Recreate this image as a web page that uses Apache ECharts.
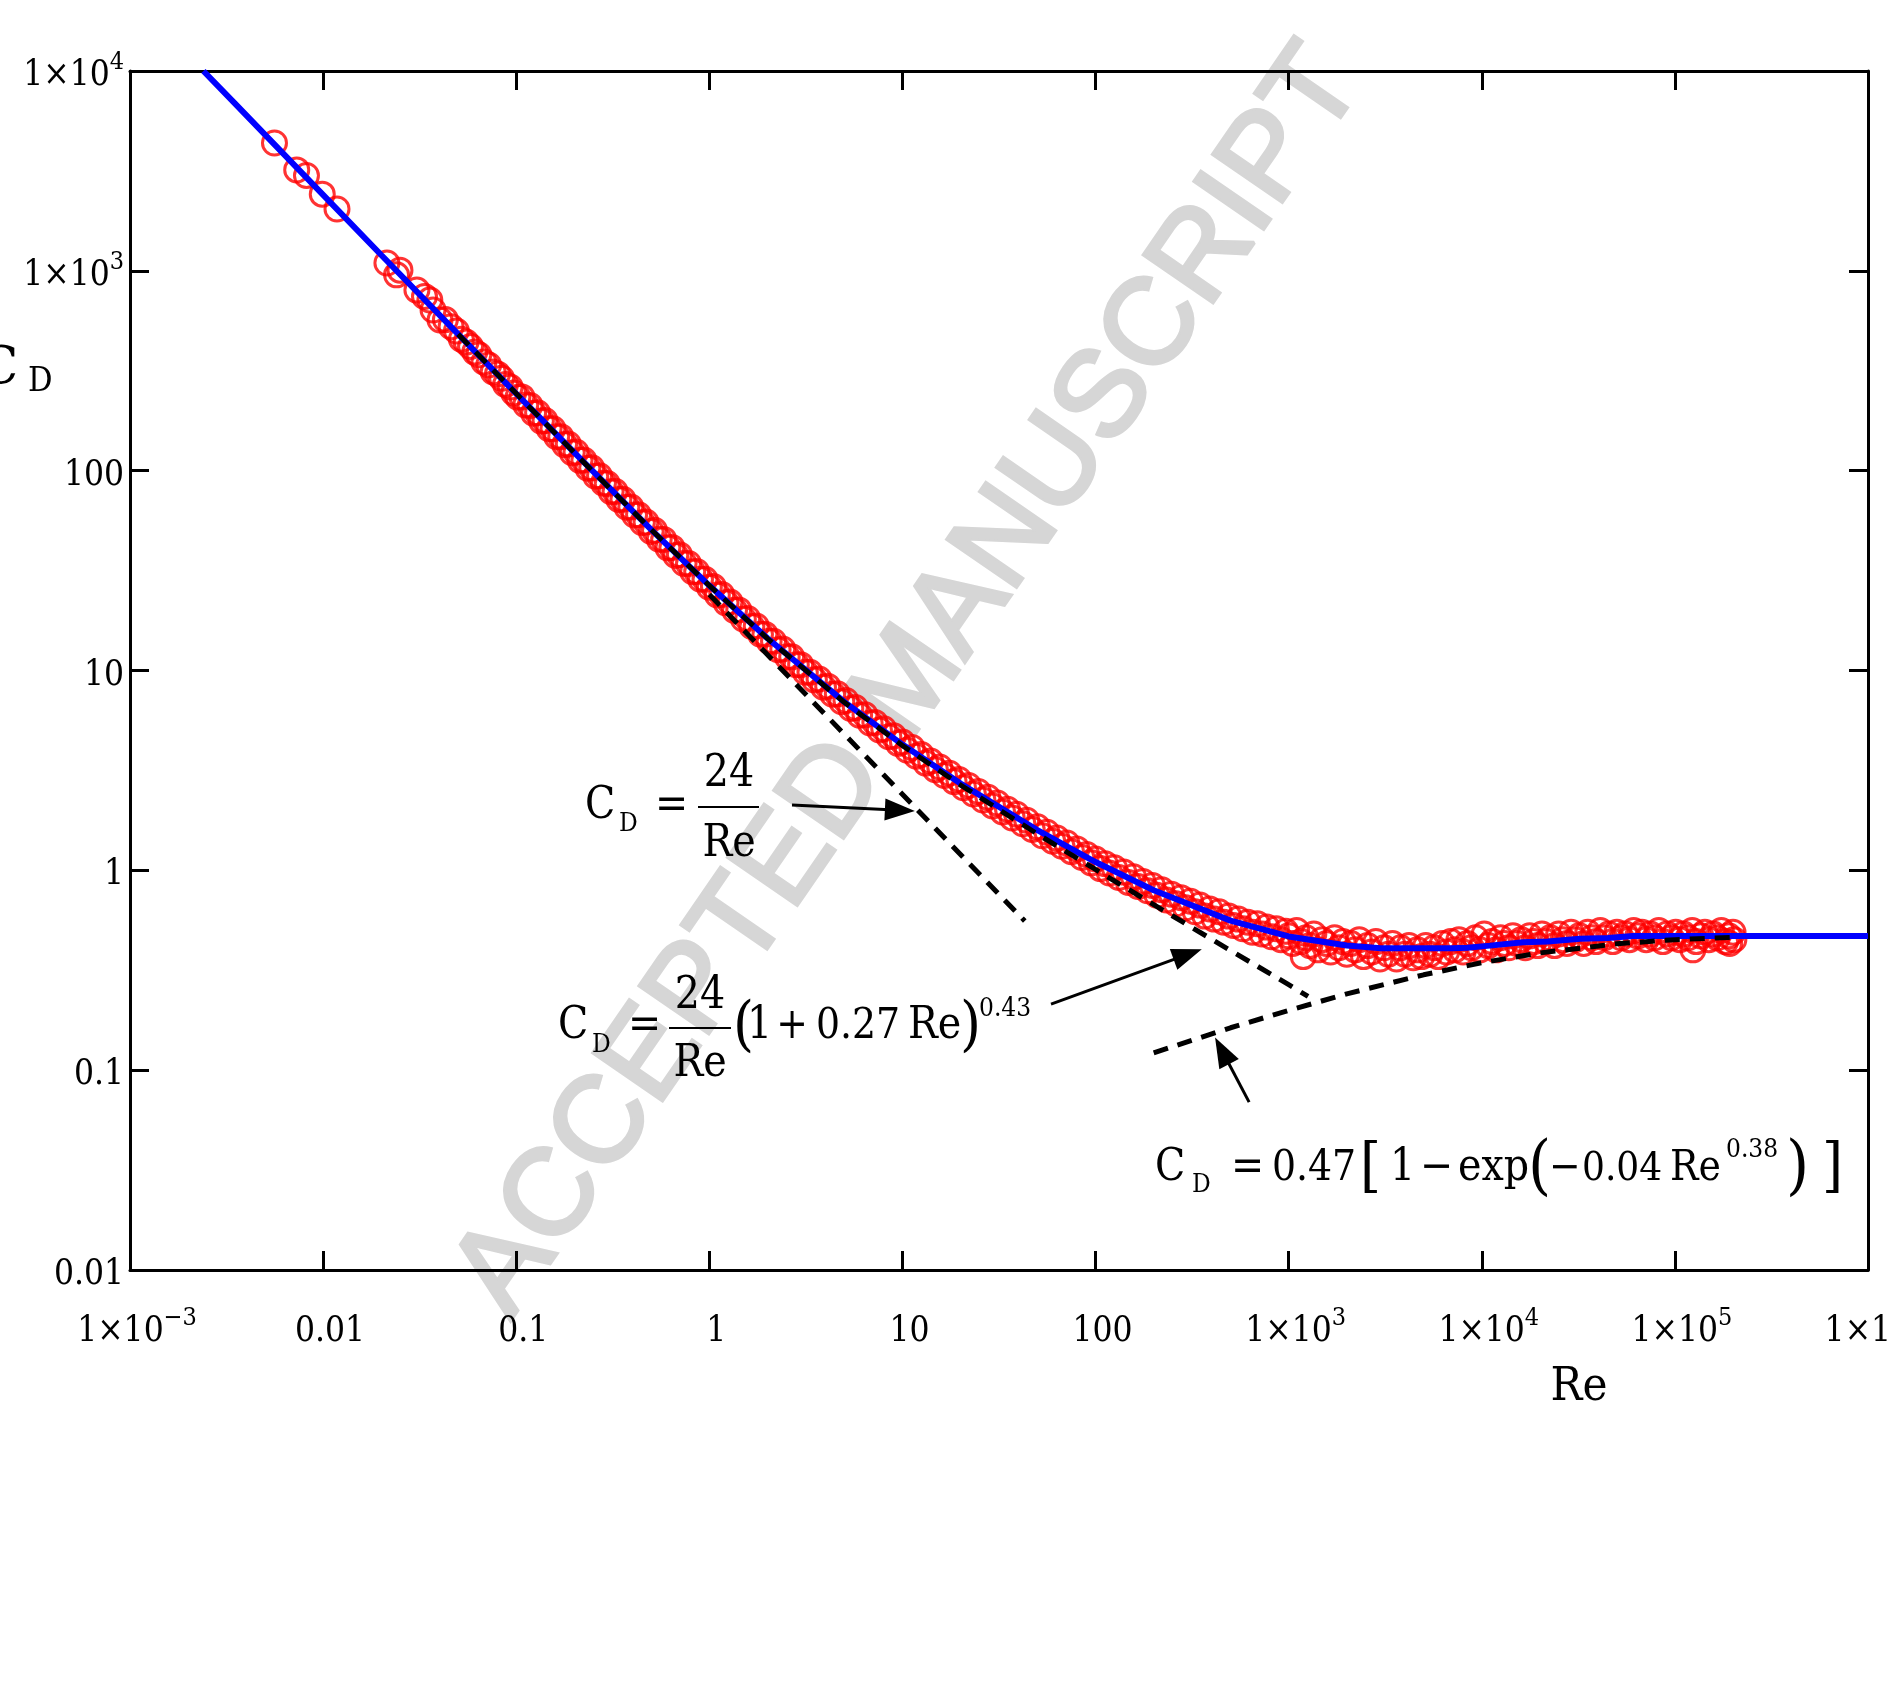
<!DOCTYPE html>
<html>
<head>
<meta charset="utf-8">
<script src="https://cdn.jsdelivr.net/npm/echarts@6/dist/echarts.min.js"></script>
<style>
  html, body { margin: 0; padding: 0; background: #fff; }
  #main { width: 1890px; height: 1684px; }
</style>
</head>
<body>
<div id="main"></div>
<script>
// drag coefficient of a sphere: experimental points, model curve and the three correlations

// axis tick labels (exponent -3..6 on x, -2..4 on y)
const xTickMain = ["1×10", "0.01", "0.1", "1", "10", "100", "1×10", "1×10", "1×10", "1×10"];
const xTickSup = ["−3", "", "", "", "", "", "3", "4", "5", "6"];
const yTickMain = ["0.01", "0.1", "1", "10", "100", "1×10", "1×10"];
const yTickSup = ["", "", "", "", "", "3", "4"];

const re1 = [0.0056, 0.0073, 0.0082, 0.0099, 0.0118,
  0.0214, 0.024, 0.025, 0.0306, 0.0335, 0.0357, 0.0371, 0.0403, 0.043, 0.046, 0.049, 0.052,
  0.055, 0.058, 0.061, 0.064, 0.068, 0.072, 0.076, 0.08, 0.084, 0.088, 0.093, 0.097];
const cd1 = [4360, 3200, 3000, 2420, 2040,
  1094, 955, 1008, 801, 745, 714, 637, 567, 570, 525, 500, 455,
  440, 418, 392, 380, 350, 338, 312, 305, 290, 270, 262, 245];

const re2 = [0.102, 0.107, 0.112, 0.118, 0.123, 0.129, 0.135, 0.141, 0.148, 0.155, 0.162, 0.17,
  0.178, 0.186, 0.195, 0.204, 0.214, 0.224, 0.235, 0.246, 0.258, 0.27, 0.283, 0.296,
  0.31, 0.325, 0.34, 0.357, 0.374, 0.392, 0.41, 0.43, 0.45, 0.47, 0.5, 0.52,
  0.55, 0.58, 0.61, 0.64, 0.67, 0.7, 0.74, 0.78, 0.82, 0.86, 0.9, 0.95];
const cd2 = [233, 234, 213, 212, 194, 195, 177, 178, 162, 162, 148, 148,
  135, 136, 123, 124, 112.6, 113, 102.8, 103.3, 93.8, 94.3, 86.6, 86.3,
  78.5, 78.8, 71.8, 72, 65.6, 65.8, 60, 60.2, 54.9, 55.3, 49.6, 50.3,
  45.4, 45.3, 41.1, 41.3, 37.6, 38, 34.3, 34.3, 31.2, 31.3, 28.6, 28.6];

const re3 = [1.0, 1.05, 1.1, 1.16, 1.22, 1.28, 1.35, 1.42, 1.5, 1.58, 1.66, 1.75, 1.84, 1.94,
  2.04, 2.15, 2.27, 2.4, 2.53, 2.67, 2.82, 2.97, 3.14, 3.32, 3.5, 3.7, 3.9, 4.1, 4.35,
  4.6, 4.85, 5.1, 5.4, 5.7, 6.0, 6.4, 6.8, 7.2, 7.6, 8.0, 8.5, 9.0, 9.5];
const cd3 = [26.1, 26.3, 23.9, 24.0, 21.8, 22.0, 20.0, 20.1, 18.1, 18.2, 16.6, 16.7, 15.2, 15.2,
  14.0, 14.0, 12.7, 12.8, 11.7, 11.7, 10.7, 10.7, 9.8, 9.8, 8.98, 9.06, 8.25, 8.35, 7.6,
  7.64, 6.98, 7.08, 6.45, 6.52, 5.97, 6.0, 5.46, 5.5, 5.04, 5.11, 4.66, 4.71, 4.32];

const re4 = [10, 10.6, 11.2, 11.8, 12.5, 13.2, 14, 14.8, 15.6, 16.5, 17.5, 18.5, 19.6, 20.7,
  22, 23.3, 24.7, 26.1, 27.7, 29.3, 31, 33, 35, 37, 39, 42, 44, 47, 50, 53,
  56, 60, 63, 67, 71, 75, 80, 85, 90, 95];
const cd4 = [4.39, 3.99, 4.12, 3.72, 3.8, 3.44, 3.52, 3.19, 3.29, 2.98, 3.06, 2.78, 2.85, 2.59,
  2.66, 2.41, 2.48, 2.25, 2.32, 2.1, 2.17, 1.96, 2.02, 1.83, 1.91, 1.71, 1.78, 1.6, 1.65, 1.49,
  1.55, 1.4, 1.45, 1.32, 1.37, 1.24, 1.28, 1.16, 1.2, 1.09];

const re5 = [100, 106, 112, 118, 125, 132, 140, 148, 157, 166, 176, 186, 197, 208, 220, 233,
  247, 261, 277, 293, 310, 328, 347, 368, 390, 412, 436, 462, 489, 518, 548, 580,
  614, 650, 688, 728, 770, 815, 863, 913, 966];
const cd5 = [1.14, 1.02, 1.08, 0.97, 1.03, 0.92, 0.98, 0.87, 0.93, 0.83, 0.88, 0.79, 0.84, 0.75, 0.8, 0.71,
  0.76, 0.68, 0.73, 0.65, 0.7, 0.62, 0.67, 0.59, 0.64, 0.57, 0.62, 0.55, 0.59, 0.53, 0.57, 0.51,
  0.55, 0.49, 0.54, 0.48, 0.52, 0.465, 0.51, 0.45, 0.495];

const re6 = [1000, 1050, 1100, 1160, 1190, 1230, 1290, 1350, 1420, 1490, 1570, 1650, 1730, 1820,
  1910, 2000, 2100, 2210, 2320, 2440, 2560, 2690, 2830, 2970, 3120, 3280, 3450, 3620,
  3800, 4000, 4200, 4420, 4640, 4880, 5130, 5390, 5660, 5950, 6250, 6570, 6900, 7250,
  7620, 8000, 8410, 8840, 9290, 9760];
const cd6 = [0.47, 0.43, 0.5, 0.44, 0.37, 0.46, 0.42, 0.48, 0.4, 0.45, 0.43, 0.39, 0.46, 0.41,
  0.44, 0.38, 0.43, 0.4, 0.45, 0.37, 0.42, 0.39, 0.44, 0.36, 0.41, 0.38, 0.43, 0.36,
  0.41, 0.38, 0.42, 0.365, 0.4, 0.37, 0.42, 0.38, 0.41, 0.37, 0.43, 0.39, 0.44, 0.4,
  0.45, 0.39, 0.43, 0.41, 0.46, 0.4];

const re7 = [10300, 10800, 11300, 11900, 12500, 13100, 13800, 14500, 15200, 16000, 16800, 17700,
  18600, 19500, 20500, 21500, 22600, 23800, 25000, 26300, 27600, 29000, 30500, 32000,
  33700, 35400, 37200, 39100, 41100, 43200, 45400, 47700, 50100, 52700, 55400, 58200,
  61200, 64300, 67600, 71000, 74700, 78500, 82500, 86700, 91100, 95800, 101000, 106000,
  111000, 117000, 123000, 124000, 129000, 136000, 143000, 150000, 158000, 166000, 174000, 183000,
  190000, 192000, 200000, 202000];
const cd7 = [0.48, 0.42, 0.44, 0.4, 0.46, 0.43, 0.41, 0.47, 0.43, 0.45, 0.41, 0.47,
  0.44, 0.42, 0.48, 0.44, 0.46, 0.42, 0.48, 0.45, 0.43, 0.49, 0.45, 0.47,
  0.43, 0.49, 0.46, 0.44, 0.5, 0.46, 0.48, 0.44, 0.49, 0.46, 0.48, 0.45,
  0.5, 0.47, 0.49, 0.45, 0.48, 0.46, 0.5, 0.44, 0.48, 0.46, 0.49, 0.45,
  0.48, 0.46, 0.5, 0.4, 0.44, 0.47, 0.49, 0.45, 0.48, 0.46, 0.5, 0.44,
  0.47, 0.43, 0.49, 0.45];

// blue model curve
const modelRe = [0.0024, 0.0035, 0.005, 0.0075, 0.01, 0.02, 0.05, 0.1, 0.2, 0.5, 1, 2, 5, 10, 20, 50,
  100, 200, 500, 1000, 2000, 3000, 5000, 7000, 8400, 11000, 16400, 22000, 32300, 45000, 60800,
  100000, 200000, 1000000];
const modelCd = [10000, 6860, 4800, 3200, 2400, 1200, 482, 243, 123, 50.7, 26.6, 14.5, 6.97, 4.26, 2.72, 1.59,
  1.10, 0.795, 0.56, 0.467, 0.421, 0.408, 0.407, 0.408, 0.41, 0.42, 0.437, 0.44, 0.455, 0.458, 0.469,
  0.469, 0.469, 0.469];

// dashed correlations
const fitRe = [0.05, 0.1, 0.2, 0.5, 1, 2, 5, 10, 20, 50, 100, 200, 500, 1000, 1260];
const fitCd = [482, 243, 122.7, 50.7, 26.6, 14.45, 6.93, 4.21, 2.67, 1.52, 1.01, 0.673, 0.397, 0.268, 0.234];
const stokesRe = [1, 43];
const stokesCd = [24, 0.558];
const newtonRe = [200, 500, 1000, 2000, 5000, 10000, 20000, 50000, 100000, 200000];
const newtonCd = [0.122, 0.163, 0.199, 0.241, 0.300, 0.345, 0.386, 0.429, 0.450, 0.4625];

// arrows [tailRe, tailCd, headRe, headCd]
const arrows = [
  [2.68, 2.12, 9.7, 2.0],
  [58.8, 0.214, 300, 0.38],
  [624, 0.0692, 452, 0.125]
];

const FONT = '"DejaVu Serif Condensed", "DejaVu Serif", serif';

function pairs(xs, ys) {
  return xs.map(function (x, i) { return [x, ys[i]]; });
}

const expData = [].concat(
  pairs(re1, cd1), pairs(re2, cd2), pairs(re3, cd3), pairs(re4, cd4),
  pairs(re5, cd5), pairs(re6, cd6), pairs(re7, cd7)
);

const tickRich = {
  m: { fontFamily: FONT, fontSize: 35, lineHeight: 52, color: "#000" },
  s: { fontFamily: FONT, fontSize: 25, lineHeight: 25, verticalAlign: "top", color: "#000" }
};

function tickText(main, sup, i) {
  if (main[i] === undefined) return "";
  return sup[i] ? "{m|" + main[i] + "}{s|" + sup[i] + "}" : "{m|" + main[i] + "}";
}

function makeAxis(kind, pos, showLabel) {
  const isX = kind === "x";
  return {
    type: "log",
    logBase: 10,
    min: isX ? 0.001 : 0.01,
    max: isX ? 1e6 : 1e4,
    splitNumber: isX ? 9 : 6,
    position: pos,
    axisLine: { show: true, onZero: false, lineStyle: { color: "#000", width: 3 } },
    axisTick: { show: true, inside: true, length: 19, lineStyle: { color: "#000", width: 3 } },
    minorTick: { show: false },
    splitLine: { show: false },
    axisLabel: {
      show: showLabel,
      margin: isX ? 36 : 6,
      padding: isX ? [0, 0, 0, 14] : [10, 0, 0, 0],
      showMinLabel: true,
      showMaxLabel: true,
      hideOverlap: false,
      rich: tickRich,
      formatter: function (v) {
        const e = Math.round(Math.log10(v));
        return isX ? tickText(xTickMain, xTickSup, e + 3) : tickText(yTickMain, yTickSup, e + 2);
      }
    }
  };
}

// text helper: left/center x and baseline y
function tx(x, base, str, size, align) {
  return {
    type: "text",
    x: x,
    y: base - 0.3 * size,
    z: 100,
    style: {
      text: str,
      font: size + "px " + FONT,
      fill: "#000",
      align: align || "left",
      textAlign: align || "left",
      verticalAlign: "middle",
      textVerticalAlign: "middle"
    }
  };
}
function bar(x1, x2, y) {
  return { type: "line", z: 100, shape: { x1: x1, y1: y, x2: x2, y2: y }, style: { stroke: "#000", lineWidth: 2 } };
}

const graphics = [
  // watermark
  {
    type: "text",
    x: 910,
    y: 682,
    rotation: (55.4 * Math.PI) / 180,
    z: -10,
    style: {
      text: "ACCEPTED MANUSCRIPT",
      font: '122px "Liberation Sans", Arial, sans-serif',
      fill: "#d6d6d6",
      stroke: "#d6d6d6",
      lineWidth: 4,
      align: "center",
      textAlign: "center",
      verticalAlign: "middle",
      textVerticalAlign: "middle"
    }
  },
  // axis names
  tx(18, 385, "C", 52, "right"),
  tx(28, 392, "D", 34),
  tx(1579, 1402, "Re", 47, "center"),

  // C_D = 24/Re
  tx(585, 820, "C", 44),
  tx(619, 832, "D", 26),
  tx(655, 820, "=", 44),
  tx(729, 788, "24", 44, "center"),
  bar(698, 759, 807),
  tx(729, 858, "Re", 44, "center"),

  // C_D = 24/Re (1 + 0.27 Re)^0.43
  tx(558, 1040, "C", 44),
  tx(592, 1053, "D", 26),
  tx(628, 1040, "=", 44),
  tx(700, 1010, "24", 44, "center"),
  bar(669, 731, 1028),
  tx(700, 1078, "Re", 44, "center"),
  tx(733, 1046, "(", 60),
  tx(747, 1040, "1", 44),
  tx(792, 1040, "+", 42, "center"),
  tx(816, 1040, "0.27", 42),
  tx(908, 1040, "Re", 44),
  tx(960, 1046, ")", 60),
  tx(979, 1017, "0.43", 26),

  // C_D = 0.47[1 - exp(-0.04 Re^0.38)]
  tx(1155, 1182, "C", 44),
  tx(1192, 1193, "D", 26),
  tx(1231, 1182, "=", 44),
  tx(1272, 1182, "0.47", 42),
  tx(1360, 1187, "[", 60),
  tx(1390, 1182, "1", 44),
  tx(1420, 1182, "−", 44),
  tx(1458, 1182, "exp", 44),
  tx(1528, 1190, "(", 66),
  tx(1549, 1182, "−", 42),
  tx(1582, 1182, "0.04", 40),
  tx(1670, 1182, "Re", 42),
  tx(1726, 1158, "0.38", 26),
  tx(1786, 1190, ")", 66),
  tx(1822, 1187, "]", 60)
];

const chart = echarts.init(document.getElementById("main"), null, { renderer: "canvas" });

chart.setOption({
  animation: false,
  backgroundColor: "#fff",
  grid: { left: 130, right: 22, top: 71, bottom: 414, containLabel: false, outerBoundsMode: "none" },
  xAxis: [makeAxis("x", "bottom", true), makeAxis("x", "top", false)],
  yAxis: [makeAxis("y", "left", true), makeAxis("y", "right", false)],
  graphic: { elements: graphics },
  series: [
    {
      name: "Experiment",
      type: "scatter",
      data: expData,
      symbol: "circle",
      symbolSize: 24,
      itemStyle: { color: "rgba(0,0,0,0)", borderColor: "#ff0000", borderWidth: 3 },
      z: 2
    },
    {
      name: "Model",
      type: "line",
      data: pairs(modelRe, modelCd),
      showSymbol: false,
      symbol: "none",
      clip: true,
      lineStyle: { color: "#0000ff", width: 6 },
      z: 3
    },
    {
      name: "fit",
      type: "line",
      data: pairs(fitRe, fitCd),
      showSymbol: false,
      symbol: "none",
      lineStyle: { color: "#000", width: 5, type: [15, 10] },
      z: 4,
      markLine: {
        silent: true,
        symbol: ["none", "triangle"],
        symbolSize: [22, 30],
        label: { show: false },
        lineStyle: { color: "#000", width: 3, type: "solid" },
        data: arrows.map(function (a) {
          return [{ coord: [a[0], a[1]] }, { coord: [a[2], a[3]] }];
        })
      }
    },
    {
      name: "stokes",
      type: "line",
      data: pairs(stokesRe, stokesCd),
      showSymbol: false,
      symbol: "none",
      lineStyle: { color: "#000", width: 5, type: [15, 10] },
      z: 4
    },
    {
      name: "newton",
      type: "line",
      data: pairs(newtonRe, newtonCd),
      showSymbol: false,
      symbol: "none",
      lineStyle: { color: "#000", width: 5, type: [15, 10] },
      z: 4
    }
  ]
});
</script>
</body>
</html>
